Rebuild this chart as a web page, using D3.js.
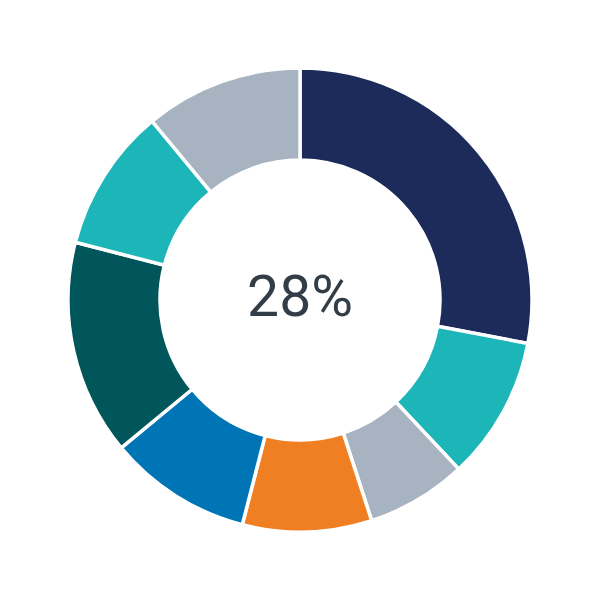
<!DOCTYPE html>
<html><head><meta charset="utf-8">
<script src="https://cdn.jsdelivr.net/npm/d3@7"></script>
<style>html,body{margin:0;padding:0;background:#fff;}</style>
</head><body>
<div id="chart"></div>
<script>
const categories = ["A","B","C","D","E","F","G","H"];
const values = [28,10,7,9,10,15,10,11];
const colors = ["#1d2b5b","#1cb5b8","#a8b3c1","#f07e22","#0075b5","#00565a","#1cb5b8","#a8b3c1"];
const centerLabel = "28%";

const W = 600, H = 600, cx = 300, cy = 300, R = 232, r = 140;
const svg = d3.select("#chart").append("svg").attr("width", W).attr("height", H);
const g = svg.append("g").attr("transform", `translate(${cx},${cy})`);
const data = categories.map((c,i)=>({cat:c, value:values[i], color:colors[i]}));
const pie = d3.pie().value(d=>d.value).sort(null);
const arc = d3.arc().innerRadius(r).outerRadius(R);
g.selectAll("path").data(pie(data)).join("path")
  .attr("d", arc).attr("fill", d=>d.data.color)
  .attr("stroke", "#fff").attr("stroke-width", 3.5).attr("stroke-linejoin","miter");
g.append("text").attr("text-anchor","middle").attr("y",16)
  .attr("font-family","Roboto, Liberation Sans, Arial, sans-serif").attr("font-size",57)
  .attr("font-weight",400)
  .attr("fill","#333d47").text(centerLabel);
</script>
</body></html>
